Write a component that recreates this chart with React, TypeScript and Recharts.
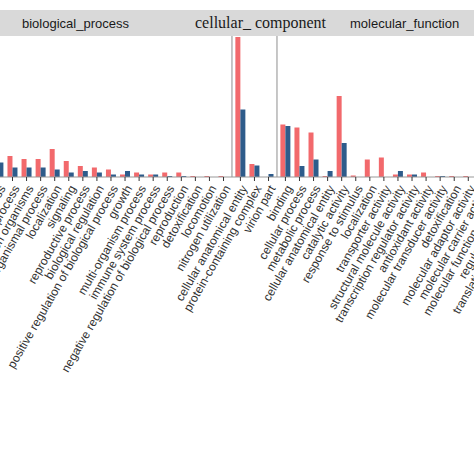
import React from 'react';
import { BarChart, Bar, XAxis, YAxis, ReferenceLine } from 'recharts';

const panelNames = ['biological_process', 'cellular_ component', 'molecular_function'];

const bpCategories = [
  'regulation of biological process',
  'developmental process',
  'interspecies interaction between organisms',
  'multicellular organismal process',
  'localization',
  'signaling',
  'reproductive process',
  'biological regulation',
  'positive regulation of biological process',
  'growth',
  'multi-organism process',
  'immune system process',
  'negative regulation of biological process',
  'reproduction',
  'detoxification',
  'locomotion',
  'nitrogen utilization',
];
const bpRed = [24, 21, 18, 18, 28, 16, 11, 9.5, 7.5, 2.5, 4.5, 2.5, 4.5, 4.5, 1, 1, 1];
const bpBlue = [14.5, 9.5, 9.5, 9.5, 7.5, 4.5, 6, 4.5, 2.5, 6, 2.5, 2.5, 1, 1, 0, 0, 0];

const ccCategories = ['cellular anatomical entity', 'protein-containing complex', 'virion part'];
const ccRed = [140, 13, 0];
const ccBlue = [67.5, 11.5, 3];

const mfCategories = [
  'binding',
  'cellular process',
  'metabolic process',
  'cellular anatomical entity',
  'catalytic activity',
  'response to stimulus',
  'localization',
  'transporter activity',
  'structural molecule activity',
  'transcription regulator activity',
  'antioxidant activity',
  'molecular transducer activity',
  'detoxification',
  'molecular adaptor activity',
  'molecular carrier activity',
  'molecular function regulator',
  'regulation of growth',
  'translation regulator activity',
];
const mfRed = [52.5, 49.5, 44.5, 1, 81, 1.5, 17.5, 19.5, 2.5, 2.5, 4.5, 1, 1, 1, 1, 1, 1, 1];
const mfBlue = [51, 11, 17.5, 6, 34, 0, 0, 0, 6, 2.5, 0, 1, 0, 0, 0, 0, 0, 0];

const RED = '#F2696C';
const BLUE = '#2E5C8B';

type Row = { pos: number; label: string; red: number; blue: number };

const groups = [
  { cats: bpCategories, red: bpRed, blue: bpBlue },
  { cats: ccCategories, red: ccRed, blue: ccBlue },
  { cats: mfCategories, red: mfRed, blue: mfBlue },
];

const PANEL_GAP = 0.2;
const EXPAND = 0.6;
const data: Row[] = [];
const boundaries: number[] = [];
let idx = 0;
groups.forEach((g, gi) => {
  g.cats.forEach((c, i) => {
    data.push({ pos: idx + gi * PANEL_GAP, label: c, red: g.red[i], blue: g.blue[i] });
    idx++;
  });
  if (gi < groups.length - 1) boundaries.push(idx - 1 + gi * PANEL_GAP + EXPAND);
});
const tickPositions = data.map((d) => d.pos);
const labelByPos = new Map<number, string>(data.map((d) => [d.pos, d.label]));
const xDomain: [number, number] = [tickPositions[0] - EXPAND, tickPositions[tickPositions.length - 1] + EXPAND];

const CHART_W = 543;
const CHART_H = 474;
const PLOT_TOP = 36;
const AXIS_H = 297;

const AxisTick = (props: any) => {
  const { x, y, payload } = props;
  const label = labelByPos.get(payload.value) ?? '';
  return (
    <text
      x={x}
      y={y}
      dy="0.72em"
      textAnchor="end"
      transform={`rotate(-60 ${x} ${y})`}
      fontSize={12}
      fill="#333333"
      fontFamily="'Liberation Sans', Arial, sans-serif"
    >
      {label}
    </text>
  );
};

export default function App() {
  return (
    <div style={{ position: 'absolute', left: 0, top: 0, width: 474, height: 474, overflow: 'hidden', background: '#fff' }}>
      <div style={{ position: 'absolute', left: -10.5, top: 0 }}>
        <BarChart
          width={CHART_W}
          height={CHART_H}
          data={data}
          margin={{ top: PLOT_TOP, right: 0, bottom: 0, left: 0 }}
          barGap={0}
          barSize={5}
        >
          <XAxis
            dataKey="pos"
            type="number"
            domain={xDomain}
            ticks={tickPositions}
            interval={0}
            height={AXIS_H}
            tickSize={4}
            tickMargin={3}
            tick={<AxisTick />}
            tickLine={{ stroke: '#333333' }}
            axisLine={{ stroke: '#999999' }}
            allowDataOverflow
          />
          <YAxis hide domain={[0, 141]} allowDataOverflow />
          {boundaries.map((b) => (
            <ReferenceLine key={b} x={b} stroke="#A8A8A8" strokeWidth={1.3} />
          ))}
          <Bar dataKey="red" fill={RED} isAnimationActive={false} />
          <Bar dataKey="blue" fill={BLUE} isAnimationActive={false} />
        </BarChart>
      </div>
      <svg width={474} height={474} style={{ position: 'absolute', left: 0, top: 0, pointerEvents: 'none' }}>
        <rect x={0} y={10} width={474} height={26} fill="#D9D9D9" />
        <text x={22} y={27.5} fontSize={13} fill="#1A1A1A" fontFamily="'Liberation Sans', Arial, sans-serif">
          {panelNames[0]}
        </text>
        <text x={195} y={27.5} fontSize={16} fill="#1A1A1A" fontFamily="'Liberation Serif', 'Times New Roman', serif">
          {panelNames[1]}
        </text>
        <text x={350} y={27.5} fontSize={13} fill="#1A1A1A" fontFamily="'Liberation Sans', Arial, sans-serif">
          {panelNames[2]}
        </text>
      </svg>
    </div>
  );
}
